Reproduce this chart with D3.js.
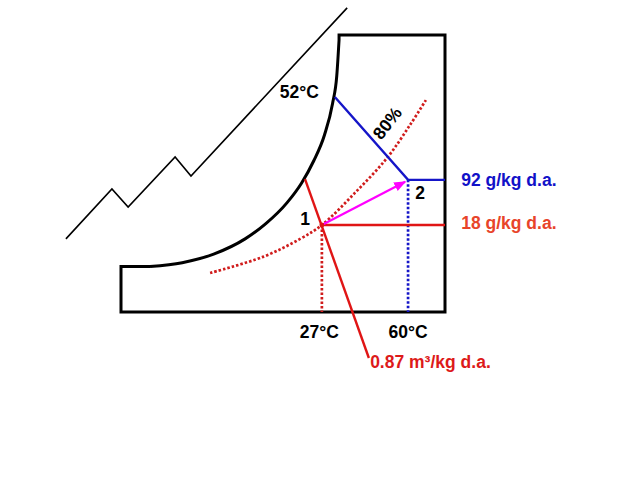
<!DOCTYPE html>
<html><head><meta charset="utf-8">
<script src="https://cdn.jsdelivr.net/npm/d3@7"></script>
<style>html,body{margin:0;padding:0;background:#fff;}svg{display:block;}</style>
</head><body>
<svg id="c" width="638" height="478"></svg>
<script>
// Diagram units: u (0..100 across chart box), v (0..100 up chart box)
const boxCorners = [[67.3,98.2],[67.3,100],[100,100],[100,0],[0,0],[0,16.4],[8.95,16.4]];
const saturationCurve = [[8.95,16.4],[18.9,17.8],[28.6,20.9],[38.3,26.4],[44.7,31.9],[51.2,39.4],[55.7,46.5],[59.5,54.6],[62.8,63.9],[65.3,75.3],[66.6,85.3],[67.3,98.2]];
const enthalpyScale = [[-17.0,26.4],[-2.8,44.4],[2.2,37.9],[16.7,56.0],[21.6,49.1],[69.8,109.8]];
const rh80Curve = [[27.5,14.1],[43.8,19.9],[55.3,26.4],[62.0,31.4],[72.2,43.0],[82.1,55.6],[89.2,67.5],[94.1,76.5]];
const state1 = [62.0,31.4];
const state2 = [88.6,47.7];
const wetBulbStart2 = [66.0,77.6];
const volumeLine = [[56.8,48.0],[76.5,-16.6]];
const labels = [
  {t:"52°C", p:[61.1,77.3], anchor:"end", color:"#000"},
  {t:"92 g/kg d.a.", p:[105.0,45.5], anchor:"start", color:"#1111c8"},
  {t:"18 g/kg d.a.", p:[105.0,30.0], anchor:"start", color:"#e8442a"},
  {t:"27°C", p:[61.2,-9.4], anchor:"middle", color:"#000"},
  {t:"60°C", p:[88.6,-9.4], anchor:"middle", color:"#000"},
  {t:"0.87 m³/kg d.a.", p:[76.9,-20.2], anchor:"start", color:"#dd1a1a"},
  {t:"1", p:[56.8,31.4], anchor:"middle", color:"#000"},
  {t:"2", p:[92.3,40.8], anchor:"middle", color:"#000"}
];
const rhLabel = {t:"80%", p:[82.2,68.2], angle:-52};

const x = d3.scaleLinear().domain([0,100]).range([121,445]);
const y = d3.scaleLinear().domain([0,100]).range([312,35]);
const svg = d3.select("#c");
const line = d3.line().x(d=>x(d[0])).y(d=>y(d[1]));
const smooth = d3.line().x(d=>x(d[0])).y(d=>y(d[1])).curve(d3.curveMonotoneX);
const rhLine = d3.line().x(d=>x(d[0])).y(d=>y(d[1])).curve(d3.curveCatmullRom);
const FONT = "Liberation Sans, Arial, sans-serif";

svg.append("defs").append("marker").attr("id","ah").attr("viewBox","0 0 10 10")
  .attr("refX",9).attr("refY",5).attr("markerWidth",5.5).attr("markerHeight",5.5)
  .attr("orient","auto").attr("markerUnits","strokeWidth")
  .append("path").attr("d","M0,1 L10,5 L0,9 Z").attr("fill","#ff00ff");

// enthalpy zigzag
svg.append("path").attr("d",line(enthalpyScale)).attr("fill","none").attr("stroke","#000").attr("stroke-width",1.6);

// box outline + saturation curve
svg.append("path").attr("d",line(boxCorners)).attr("fill","none").attr("stroke","#000").attr("stroke-width",3).attr("stroke-linejoin","miter");
svg.append("path").attr("d",smooth(saturationCurve)).attr("fill","none").attr("stroke","#000").attr("stroke-width",3);

const dotted = (sel)=>sel.attr("fill","none").attr("stroke-width",2.7).attr("stroke-linecap","butt").attr("stroke-dasharray","2.5,2");

// 80% curve
dotted(svg.append("path").attr("d",rhLine(rh80Curve)).attr("stroke","#d01c1c"));
// dotted verticals
dotted(svg.append("path").attr("d",line([state1,[state1[0],0]])).attr("stroke","#d01c1c"));
dotted(svg.append("path").attr("d",line([state2,[state2[0],0]])).attr("stroke","#1515c8"));

// blue lines (state 2)
svg.append("path").attr("d",line([wetBulbStart2,state2,[100,state2[1]]])).attr("fill","none").attr("stroke","#1515c8").attr("stroke-width",2.4);
// red lines (state 1)
svg.append("path").attr("d",line(volumeLine)).attr("fill","none").attr("stroke","#e01515").attr("stroke-width",2.4);
svg.append("path").attr("d",line([state1,[100,state1[1]]])).attr("fill","none").attr("stroke","#e01515").attr("stroke-width",2.4);

// magenta arrow
svg.append("path").attr("d",line([state1,[state2[0]-0.9,state2[1]-0.7]])).attr("fill","none").attr("stroke","#ff00ff").attr("stroke-width",2.2).attr("marker-end","url(#ah)");
svg.append("circle").attr("cx",x(state1[0])).attr("cy",y(state1[1])).attr("r",2.4).attr("fill","#e01515");

// labels
svg.selectAll("text.lbl").data(labels).enter().append("text").attr("class","lbl")
  .attr("x",d=>x(d.p[0])).attr("y",d=>y(d.p[1])).attr("text-anchor",d=>d.anchor)
  .attr("fill",d=>d.color).attr("font-family",FONT)
  .attr("font-weight","bold").attr("font-size",17.5).text(d=>d.t);
svg.append("text").attr("transform",`translate(${x(rhLabel.p[0])},${y(rhLabel.p[1])}) rotate(${rhLabel.angle})`)
  .attr("text-anchor","middle").attr("dy","0.35em").attr("font-family",FONT)
  .attr("font-weight","bold").attr("font-size",17.5).attr("fill","#000").text(rhLabel.t);
</script>
</body></html>
